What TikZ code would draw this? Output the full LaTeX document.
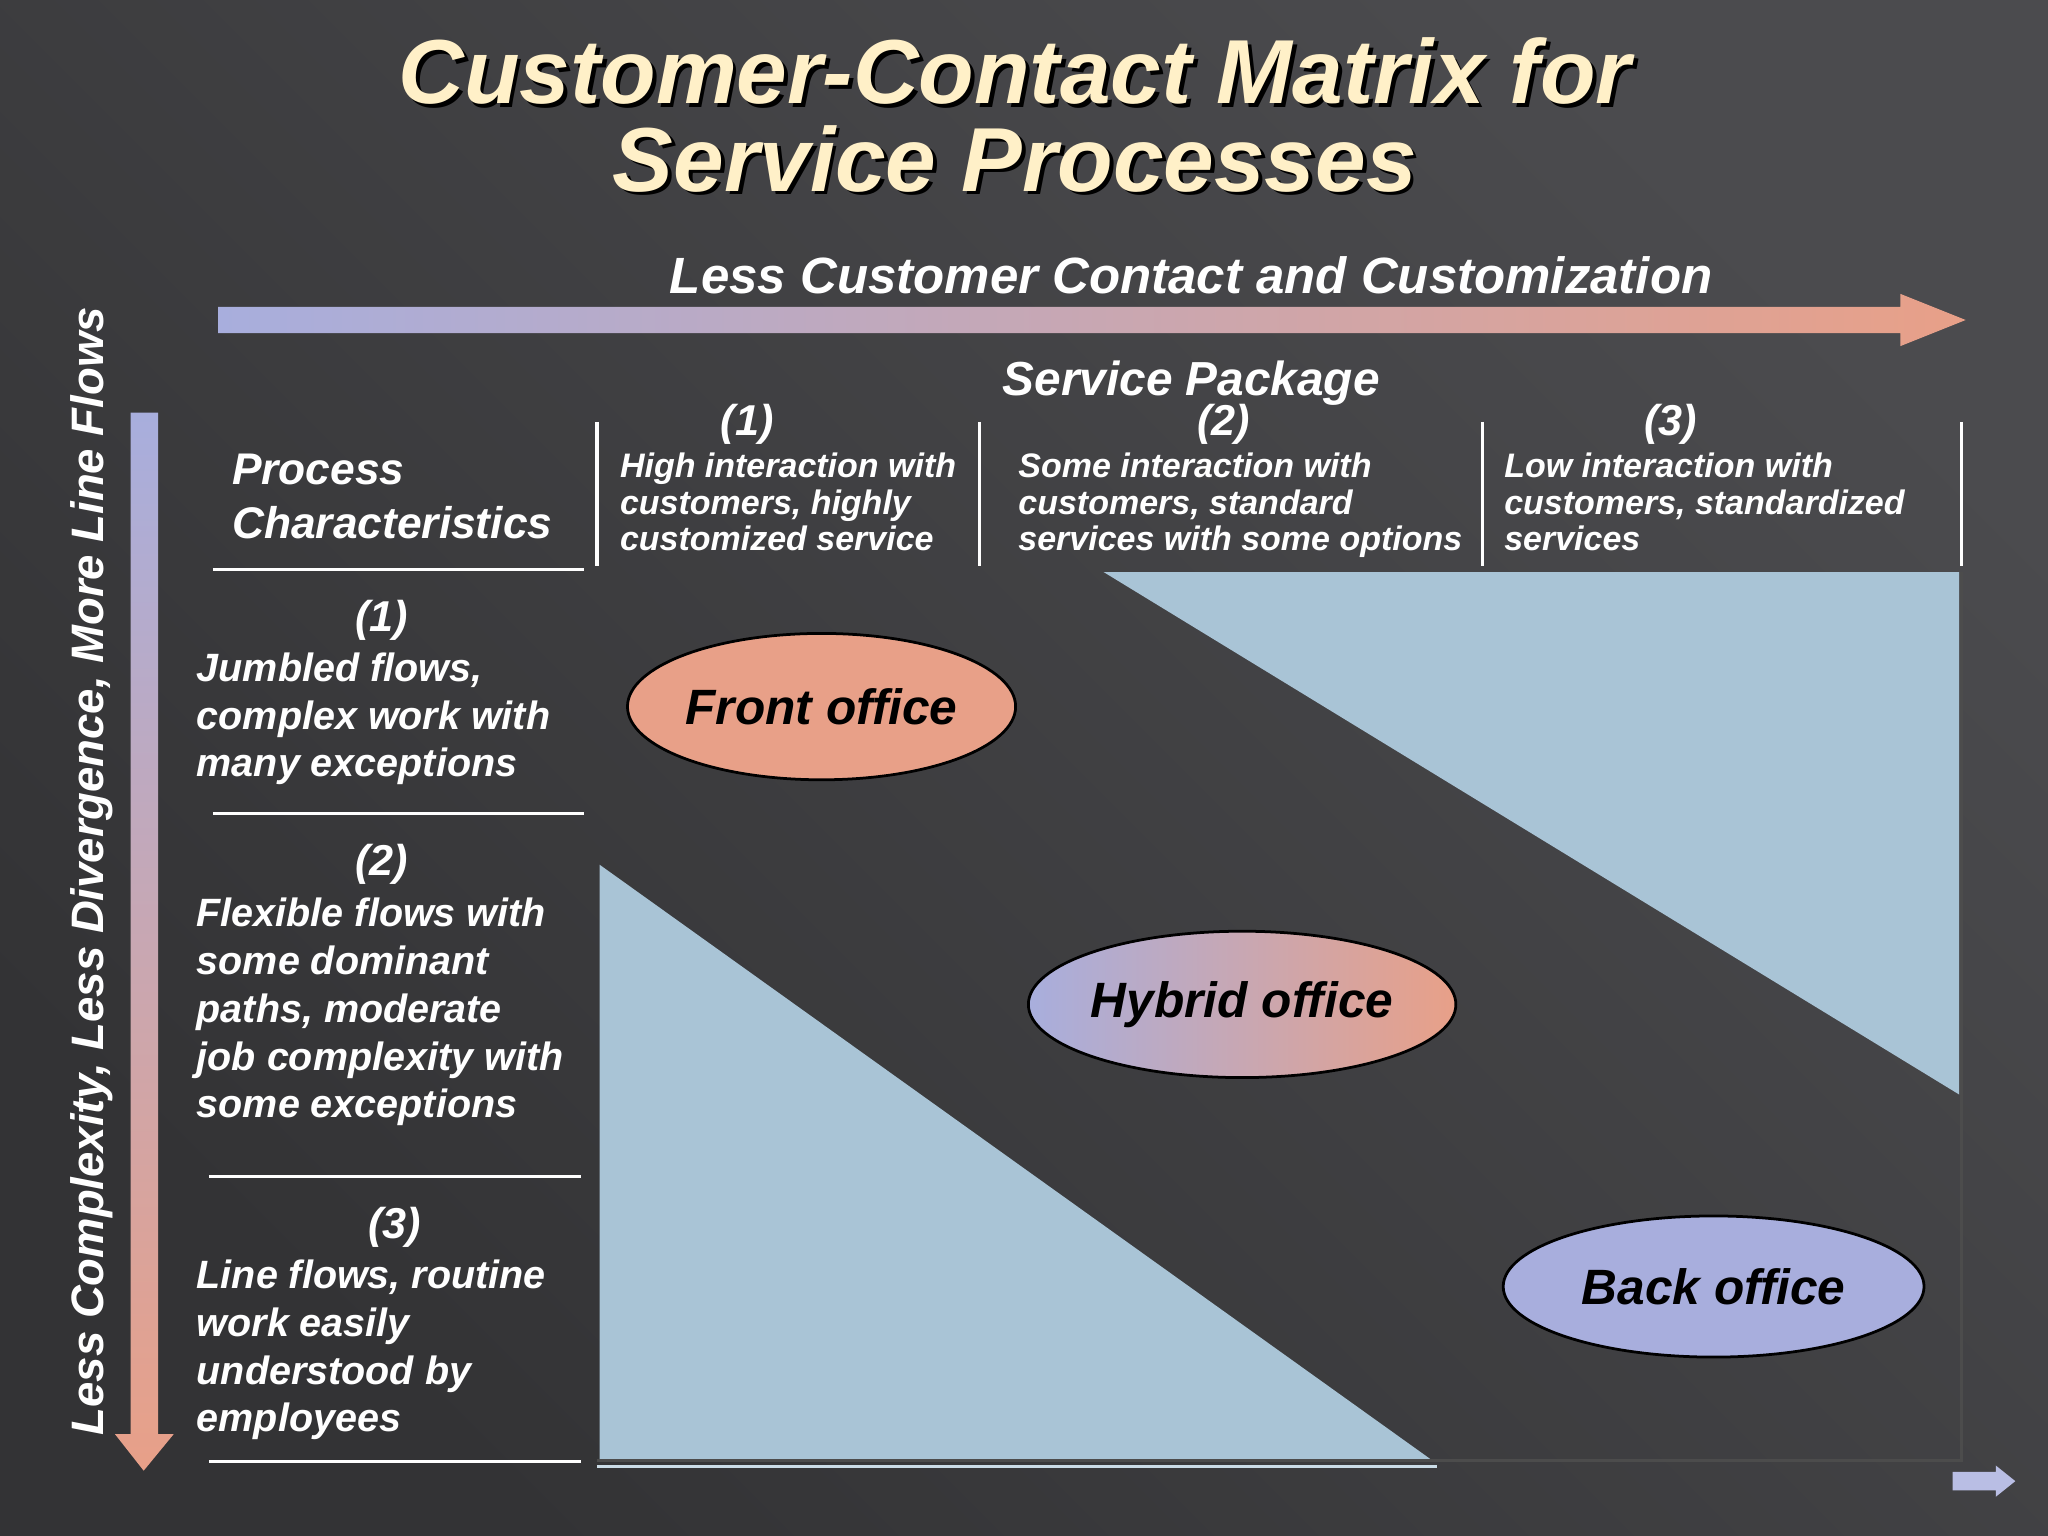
\documentclass[tikz,border=0pt]{standalone}
\usepackage{fontspec}
\setmainfont{Liberation Sans}
\usetikzlibrary{shapes.geometric}
\definecolor{bgA}{HTML}{333335}
\definecolor{bgB}{HTML}{4B4B4E}
\definecolor{cream}{HTML}{FFF0C8}
\definecolor{lblue}{HTML}{A8AEDD}
\definecolor{salmon}{HTML}{E8A088}
\definecolor{tri}{HTML}{A9C4D6}
\tikzset{
 txt/.style={text=white,font=\bfseries\itshape,inner sep=0pt},
 rowt/.style={txt,anchor=north west,align=left,font=\bfseries\itshape\fontsize{8.6}{10.4}\selectfont},
 colt/.style={txt,anchor=north west,align=left,font=\bfseries\itshape\fontsize{7.4}{8}\selectfont},
 num/.style={txt,font=\bfseries\itshape\fontsize{9.4}{10}\selectfont},
 wl/.style={white,line width=0.7pt},
 ell/.style={ellipse,draw=black,line width=0.6pt,inner sep=0pt,font=\bfseries\itshape\fontsize{10.8}{12}\selectfont,text=black}
}
\begin{document}
\begin{tikzpicture}[x=0.01cm,y=-0.01cm]
\useasboundingbox (0,0) rectangle (1568,1176);
\shade[left color=bgA,right color=bgB,shading angle=135] (0,0) rectangle (1568,1176);
% title with shadow
\node[text=black,font=\bfseries\itshape\fontsize{19.8}{19}\selectfont,align=center,inner sep=0pt] (titleshadow) at (780,91) {Customer-Contact Matrix for\\Service Processes};
\node[text=cream,font=\bfseries\itshape\fontsize{19.8}{19}\selectfont,align=center,inner sep=0pt] (title) at (777,88) {Customer-Contact Matrix for\\Service Processes};
% top arrow
\shade[left color=lblue,right color=salmon] (167,235) -- (1455,235) -- (1455,225) -- (1505,245) -- (1455,265) -- (1455,255) -- (167,255) -- cycle;
\node[txt,font=\bfseries\itshape\fontsize{11.1}{12}\selectfont] (toplab) at (912,211) {Less Customer Contact and Customization};
% left arrow
\shade[top color=lblue,bottom color=salmon] (100,316) -- (121,316) -- (121,1098) -- (133,1098) -- (110,1126) -- (88,1098) -- (100,1098) -- cycle;
\node[txt,rotate=90,font=\bfseries\itshape\fontsize{9.9}{11}\selectfont] (leftlab) at (70,667) {Less Complexity, Less Divergence, More Line Flows};
% triangles
\fill[tri] (845,438) -- (1500,438) -- (1500,838) -- cycle;
\fill[tri] (459,662) -- (459,1117) -- (1095,1117) -- cycle;
\draw[gray!60!black,line width=0.6pt] (1502,438) -- (1502,1118) -- (457,1118);
\draw[tri!60!white,line width=0.6pt] (457,1123) -- (1100,1123);
% headers
\node[txt,font=\bfseries\itshape\fontsize{10.4}{11}\selectfont] (sp) at (912,293) {Service Package};
\foreach \x in {457,750,1135,1502}{\draw[wl] (\x,323) -- (\x,433);}
\node[num] (c1) at (572,325) {(1)};
\node[num] (c2) at (937,325) {(2)};
\node[num] (c3) at (1279,325) {(3)};
\node[colt] (h1) at (474,346) {High interaction with\\customers, highly\\customized service};
\node[colt] (h2) at (779,346) {Some interaction with\\customers, standard\\services with some options};
\node[colt] (h3) at (1151,346) {Low interaction with\\customers, standardized\\services};
\node[txt,anchor=north west,align=left,font=\bfseries\itshape\fontsize{9.65}{11.8}\selectfont] (pc) at (177,347) {Process\\ Characteristics};
% row lines
\draw[wl] (163,436) -- (447,436);
\draw[wl] (163,623) -- (447,623);
\draw[wl] (160,901) -- (445,901);
\draw[wl] (160,1119) -- (445,1119);
% rows
\node[num] (r1) at (292,475) {(1)};
\node[rowt] (t1) at (150,499) {Jumbled flows,\\complex work with\\many exceptions};
\node[num] (r2) at (292,662) {(2)};
\node[rowt] (t2) at (150,687) {Flexible flows with\\some dominant\\paths, moderate\\job complexity with\\some exceptions};
\node[num] (r3) at (302,940) {(3)};
\node[rowt] (t3) at (150,964) {Line flows, routine\\work easily\\understood by\\employees};
% ellipses
\node[ell,fill=salmon,minimum width=2.97cm,minimum height=1.12cm] (fo) at (629,541) {Front office};
\node[ell,left color=lblue,right color=salmon,minimum width=3.13cm,minimum height=1.12cm] (ho) at (951,769) {Hybrid office};
\node[ell,fill=lblue,minimum width=3.22cm,minimum height=1.08cm] (bo) at (1312,985) {Back office};
% small arrow
\fill[lblue!80!white] (1495,1127) -- (1528,1127) -- (1528,1122) -- (1543,1134) -- (1528,1146) -- (1528,1141) -- (1495,1141) -- cycle;
\end{tikzpicture}
\end{document}
